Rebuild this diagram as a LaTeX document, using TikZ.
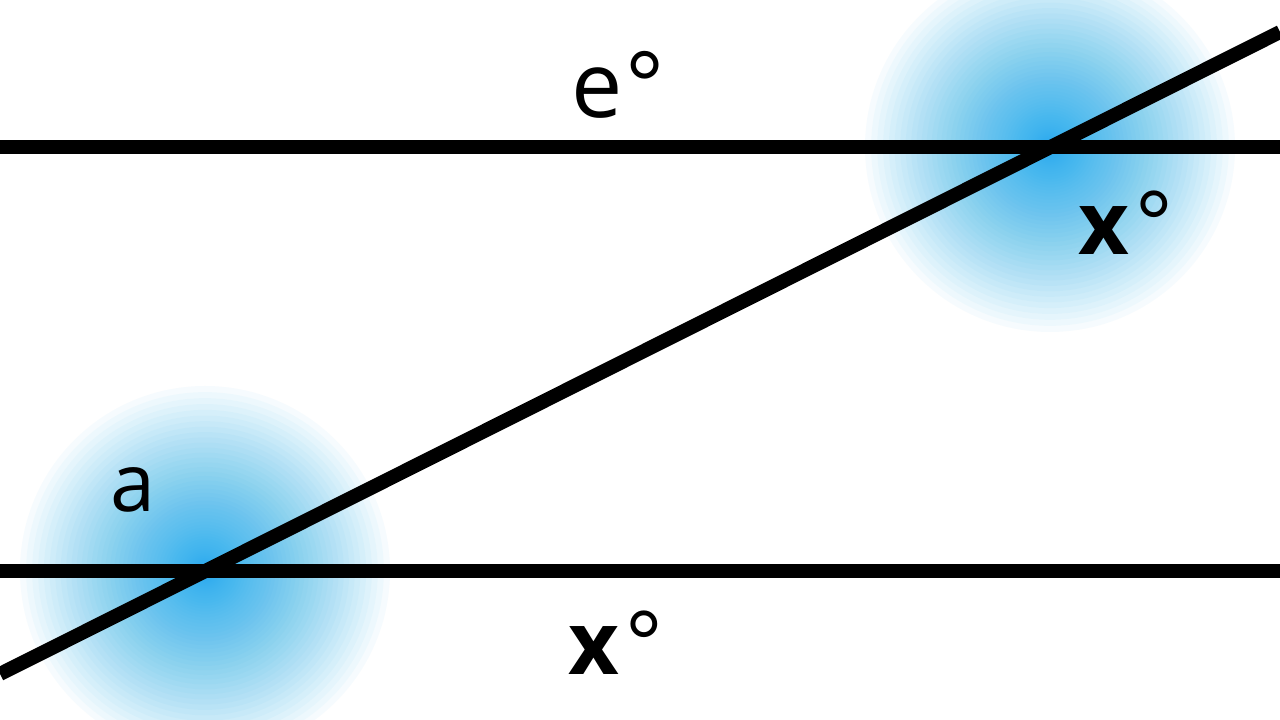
\documentclass[tikz,border=0pt]{standalone}
\usepackage{fontspec}
\setmainfont{Open Sans}
\definecolor{glowblue}{RGB}{18,168,238}

\begin{document}
\begin{tikzpicture}
        [line width=4pt,
         glowspot/.style={fill=glowblue,opacity=0.036},
         lbl/.style={inner sep=0pt,anchor=base west,font=\fontsize{26}{32}\selectfont},
         ang/.style={lbl,font=\fontsize{25}{30}\selectfont}]
        \fill[white] (0,0) rectangle (12.8,7.2);
        \useasboundingbox (0,0) rectangle (12.8,7.2);
        \clip (0,0) rectangle (12.8,7.2);

        \coordinate (p) at (10.5, 5.73);
        \coordinate (q) at (2.05, 1.49);
        % denser rings near the middle
        \foreach \i in {1,...,60} {
            \fill[glowspot] (p) circle ({1.85*(\i/60)^2});
            \fill[glowspot] (q) circle ({1.85*(\i/60)^2});
        }

        \coordinate (tl) at (0, 5.73);
        \coordinate (tr) at (12.8, 5.73);
        \coordinate (bl) at (0, 1.49);
        \coordinate (br) at (12.8, 1.49);
        \coordinate (s) at (0, 0.46);
        \coordinate (t) at (12.8, 6.88);

        \draw (tl) -- (tr);
        \draw (bl) -- (br);
        \draw (s) -- (t);

        \node[lbl] (e) at (5.64, 6.02) {e\kern1pt°};
        \node[ang] (xtop) at (10.71, 4.65) {\bfseries x\mdseries\kern2pt°};
        \node[lbl,font=\fontsize{23}{28}\selectfont] (a) at (1.03, 2.08) {a};
        \node[ang] (xbot) at (5.61, 0.45) {\bfseries x\mdseries\kern2pt°};
    \end{tikzpicture}
\end{document}
